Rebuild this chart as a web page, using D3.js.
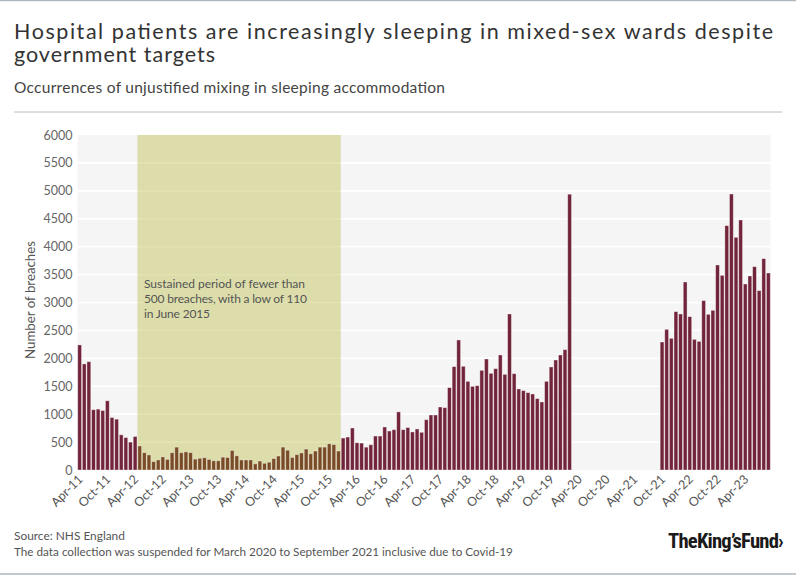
<!DOCTYPE html>
<html>
<head>
<meta charset="utf-8">
<script src="https://cdn.jsdelivr.net/npm/d3@7"></script>
<style>
  html, body { margin: 0; padding: 0; background: #ffffff; }
  svg { display: block; }
  text { font-family: "Source Sans Pro", Lato, "Open Sans", sans-serif; }
</style>
</head>
<body>
<svg id="chart" width="796" height="575"></svg>
<script>
// ---------- DATA ----------
const titleLines = ["Hospital patients are increasingly sleeping in mixed-sex wards despite", "government targets"];
const subtitle = "Occurrences of unjustified mixing in sleeping accommodation";
const sourceNote = "Source: NHS England";
const covidNote = "The data collection was suspended for March 2020 to September 2021 inclusive due to Covid-19";
const annotationLines = ["Sustained period of fewer than", "500 breaches, with a low of 110", "in June 2015"];
const yAxisTitle = "Number of breaches";

// Months Apr 2011 – Sep 2023 (categories)
const firstMonth = new Date(2011, 3, 1);
const endMonth = new Date(2023, 9, 1);

// Apr-11 .. Feb-20
const preCovidValues = [
  2240, 1900, 1940, 1080, 1090, 1065, 1240, 940, 910, 630, 580, 500, 600,
  430, 310, 270, 150, 180, 235, 190, 310, 410, 310, 325, 310, 195, 210, 220, 190, 165, 165, 230, 225, 350, 255, 180,
  180, 180, 110, 160, 120, 140, 205, 250, 410, 355, 225, 275, 305, 375, 290, 340, 410, 410, 470, 455, 340,
  572, 590, 752, 488, 482, 409, 452, 608, 608, 770, 698, 722, 1041, 722,
  760, 681, 734, 675, 901, 985, 985, 1128, 1116, 1475, 1851, 2328, 1857, 1588, 1498, 1510, 1785, 1988, 1731, 1815,
  2060, 1713, 2794, 1725, 1451, 1421, 1385, 1361, 1278, 1218, 1588, 1845, 1970, 2060, 2155,
  4940
];
// Oct-21 .. Sep-23
const postCovidValues = [
  2292, 2519, 2358, 2836, 2794, 3367, 2746, 2340, 2304, 3033, 2788, 2860,
  3672, 3486, 4376, 4943, 4167, 4478, 3331, 3475, 3642, 3212, 3785, 3528
];
const postCovidStart = "Oct-21";

// Shaded "sustained low" period
const shadeStart = "May-12";
const shadeEnd = "Dec-15";

const yTicks = [0, 500, 1000, 1500, 2000, 2500, 3000, 3500, 4000, 4500, 5000, 5500, 6000];
const xTickLabels = ["Apr-11","Oct-11","Apr-12","Oct-12","Apr-13","Oct-13","Apr-14","Oct-14","Apr-15","Oct-15",
  "Apr-16","Oct-16","Apr-17","Oct-17","Apr-18","Oct-18","Apr-19","Oct-19","Apr-20","Oct-20","Apr-21","Oct-21",
  "Apr-22","Oct-22","Apr-23"];

// ---------- BUILD ----------
const fmt = d3.timeFormat("%b-%y");
const months = d3.timeMonth.range(firstMonth, endMonth).map(fmt);
const valueByMonth = new Map();
preCovidValues.forEach((v, i) => valueByMonth.set(months[i], v));
const postIdx = months.indexOf(postCovidStart);
postCovidValues.forEach((v, i) => valueByMonth.set(months[postIdx + i], v));
const data = months.filter(m => valueByMonth.has(m)).map(m => ({ month: m, value: valueByMonth.get(m) }));

const svg = d3.select("#chart");
const W = 796, H = 575;
const plot = { left: 77.5, right: 770.5, top: 135, bottom: 470 };

const x = d3.scaleBand().domain(months).range([plot.left, plot.right]).paddingInner(0.18).paddingOuter(0.05);
const y = d3.scaleLinear().domain([0, 6000]).range([plot.bottom, plot.top]);

function fitText(sel, targetWidth) {
  const node = sel.node();
  const fs = parseFloat(sel.attr("font-size"));
  const w = node.getComputedTextLength();
  if (w > 0) sel.attr("font-size", (fs * targetWidth / w).toFixed(2));
  return sel;
}
function spaceText(sel, targetWidth) {
  sel.attr("textLength", targetWidth).attr("lengthAdjust", "spacing");
  return sel;
}

// Frame lines
svg.append("line").attr("x1", 0).attr("x2", W).attr("y1", 0.5).attr("y2", 0.5).attr("stroke", "#aeb6bd").attr("stroke-width", 1.5);
svg.append("line").attr("x1", 14).attr("x2", 782).attr("y1", 112).attr("y2", 112).attr("stroke", "#b5bec6").attr("stroke-width", 1);
svg.append("line").attr("x1", 0).attr("x2", W).attr("y1", 574).attr("y2", 574).attr("stroke", "#aeb6bd").attr("stroke-width", 1.5);

// Title
const titleBaselines = [38.5, 61.5];
const titleWidths = [759, 201];
titleLines.forEach((t, i) => {
  const s = svg.append("text").attr("x", 14).attr("y", titleBaselines[i]).attr("font-size", 21.5).attr("fill", "#333333").text(t);
  spaceText(s, titleWidths[i]);
});
spaceText(svg.append("text").attr("x", 14).attr("y", 92.5).attr("font-size", 15.5).attr("fill", "#444444").text(subtitle), 431);

// Plot background
svg.append("rect").attr("x", plot.left).attr("y", plot.top).attr("width", plot.right - plot.left).attr("height", plot.bottom - plot.top).attr("fill", "#f5f5f5");

// Gridlines
svg.append("g").selectAll("line").data(yTicks.filter(d => d > 0 && d < 6000)).join("line")
  .attr("x1", plot.left).attr("x2", plot.right)
  .attr("y1", d => y(d)).attr("y2", d => y(d))
  .attr("stroke", "#ffffff").attr("stroke-width", 1.6);

// Shaded region
const sx0 = x(shadeStart) - x.step() * x.paddingInner() / 2;
const sx1 = x(shadeEnd) + x.bandwidth() + x.step() * x.paddingInner() / 2;
svg.append("rect").attr("x", sx0).attr("y", plot.top).attr("width", sx1 - sx0).attr("height", plot.bottom - plot.top)
  .attr("fill", "#b7b93a").attr("fill-opacity", 0.4);

// Bars
const i0 = months.indexOf(shadeStart), i1 = months.indexOf(shadeEnd);
svg.append("g").selectAll("rect").data(data).join("rect")
  .attr("x", d => x(d.month))
  .attr("width", x.bandwidth())
  .attr("y", d => y(d.value))
  .attr("height", d => y(0) - y(d.value))
  .attr("fill", d => { const k = months.indexOf(d.month); return (k >= i0 && k <= i1) ? "#7a4b27" : "#72243b"; })
  .attr("stroke", "#ffffff").attr("stroke-opacity", 0.45).attr("stroke-width", 0.8);

// Annotation
const ann = svg.append("g").attr("fill", "#555555");
const annBase = [288, 303, 318];
const annWidths = [161, 163, 66];
annotationLines.forEach((t, i) => {
  spaceText(ann.append("text").attr("x", 144).attr("y", annBase[i]).attr("font-size", 12).text(t), annWidths[i]);
});

// Y axis
const yAxis = d3.axisLeft(y).tickValues(yTicks).tickFormat(d3.format("d")).tickSize(0).tickPadding(5);
const gy = svg.append("g").attr("transform", `translate(${plot.left},0)`).call(yAxis);
gy.select(".domain").remove();
gy.selectAll("text").attr("font-size", 12.5).attr("fill", "#666666").style("font-family", "\"Source Sans Pro\", Lato, sans-serif");

const yt = svg.append("text").attr("transform", "translate(35,300) rotate(-90)").attr("text-anchor", "middle")
  .attr("font-size", 12.5).attr("fill", "#555555").text(yAxisTitle);
fitText(yt, 118);

// X axis
const xAxis = d3.axisBottom(x).tickValues(xTickLabels).tickSize(0).tickPadding(0);
const gx = svg.append("g").attr("transform", `translate(0,${plot.bottom})`).call(xAxis);
gx.select(".domain").remove();
gx.selectAll("text")
  .attr("font-size", 12.5).attr("fill", "#555555")
  .style("font-family", "\"Source Sans Pro\", Lato, sans-serif")
  .attr("text-anchor", "end").attr("dy", null).attr("y", 0)
  .attr("transform", "translate(4,10) rotate(-45)");

// Footer
fitText(svg.append("text").attr("x", 14).attr("y", 540).attr("font-size", 12).attr("fill", "#555555").text(sourceNote), 111);
fitText(svg.append("text").attr("x", 14).attr("y", 556).attr("font-size", 12).attr("fill", "#555555").text(covidNote), 499);

// Logo
const logo = svg.append("text").attr("x", 668).attr("y", 548).attr("font-size", 19).attr("font-weight", "bold")
  .attr("fill", "#1a1a1a").style("font-family", "\"Liberation Sans Narrow\", \"Roboto Condensed\", Roboto, sans-serif")
  .attr("letter-spacing", -0.8).text("TheKing’sFund›");
fitText(logo, 114);
</script>
</body>
</html>
